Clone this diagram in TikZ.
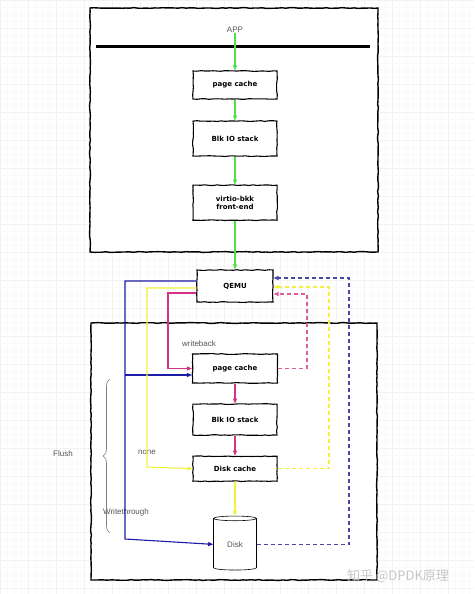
\documentclass[tikz,border=0pt]{standalone}
\usepackage{fontspec}
\setmainfont{Liberation Sans}
\newfontfamily\cjk{Noto Sans CJK SC}
\newfontfamily\boxfont{DejaVu Sans}
\usetikzlibrary{positioning,arrows.meta,shapes.geometric,decorations.pathmorphing,decorations.pathreplacing}

\definecolor{vgreen}{HTML}{4CE04C}
\definecolor{vyellow}{HTML}{F2F23C}
\definecolor{vpink}{HTML}{D63384}
\definecolor{vblue}{HTML}{1C1CA8}
\definecolor{vslate}{HTML}{4848A8}
\definecolor{lblgray}{HTML}{555555}

\begin{document}
\begin{tikzpicture}[x=1pt, y=-1pt,
	sketch/.style={decorate, decoration={random steps, segment length=4pt, amplitude=0.4pt}},
	box/.style={draw, sketch, line width=1.1pt, fill=white, minimum width=84pt, inner sep=1pt, align=center, font=\boxfont\bfseries\fontsize{7}{8.5}\selectfont},
	frame/.style={draw, sketch, line width=1.4pt},
	lbl/.style={text=lblgray, inner sep=0pt, font=\fontsize{8}{9.5}\selectfont},
	flow/.style={-{Triangle[length=5pt,width=4pt]}, line width=1.1pt},
	back/.style={flow, dash pattern=on 4pt off 3pt},
	node distance=20pt]
	\pgfmathsetseed{7}
	\useasboundingbox (0,0) rectangle (474,594);
	\fill[white] (0,0) rectangle (474,594);
	\draw[gray!5, step=7pt] (0,0) grid (474,594);
	\draw[gray!10, step=28pt] (0,0) grid (474,594);

	% guest
	\draw[frame, fill=white] (90,8) rectangle (378,252);
	\draw[line width=3pt] (96,47) -- (370,47);
	\node[lbl] (APP) at (235,30) {APP};
	\node[box, minimum height=28pt] (PC1) at (235,85) {page cache};
	\node[box, minimum height=35pt, below=21pt of PC1] (BLK1) {Blk IO stack};
	\node[box, minimum height=35pt, below=28pt of BLK1] (VIO) {virtio-bkk\\front-end};

	% host
	\draw[frame, fill=white] (91,323) rectangle (377,580);
	\node[box, minimum width=76pt, minimum height=32pt] (QEMU) at (235,286) {QEMU};
	\node[box, minimum width=85pt, minimum height=29pt] (PC2) at (235,368.5) {page cache};
	\node[box, minimum height=31pt, below=of PC2] (BLK2) {Blk IO stack};
	\node[box, minimum height=25pt, below=of BLK2] (DC) {Disk cache};
	\node[cylinder, draw, line width=0.6pt, fill=white, shape border rotate=90, aspect=0.3,
		minimum width=43pt, minimum height=54pt, inner sep=0pt, font=\fontsize{8}{9.5}\selectfont,
		text=lblgray, below=34pt of DC] (DISK) {Disk};

	\node[lbl] (WB) at (199,344) {writeback};
	\node[lbl] (NONE) at (147,452) {none};
	\node[lbl] (WT) at (126,512) {Writethrough};
	\node[lbl] (FL) at (63,454) {Flush};
	\draw[gray, line width=0.6pt, decorate, decoration={brace, amplitude=7pt}] (110,533) -- (110,379);

	% guest path
	\draw[flow, vgreen] (APP) -- (PC1);
	\draw[flow, vgreen] (PC1) -- (BLK1);
	\draw[flow, vgreen] (BLK1) -- (VIO);
	\draw[flow, vgreen] (VIO) -- (QEMU);

	% host paths
	\draw[flow, vblue] (QEMU.west |- 0,281) -| (125,539) -- (DISK.west);
	\draw[flow, vblue] (125,375) -- (PC2.west |- 0,375);
	\draw[flow, vyellow] (QEMU.west |- 0,288) -| (147,467) -- (DC.west);
	\draw[flow, vpink] (QEMU.west |- 0,293) -| (168,368.5) -- (PC2.west);
	\draw[flow, vpink] (PC2) -- (BLK2);
	\draw[flow, vpink] (BLK2) -- (DC);
	\draw[flow, vyellow] (DC) -- (DISK);

	% completions
	\draw[back, vpink!80] (PC2.east) -| (307,294) -- (QEMU.east |- 0,294);
	\draw[back, vyellow] (DC.east) -| (329,287) -- (QEMU.east |- 0,287);
	\draw[back, vslate] (DISK.east) -| (349,278) -- (QEMU.east |- 0,278);

	\node[text=gray!45, anchor=west, inner sep=0pt, font=\cjk\fontsize{13}{15}\selectfont] (WM) at (347,576) {知乎 @DPDK原理};
\end{tikzpicture}
\end{document}
